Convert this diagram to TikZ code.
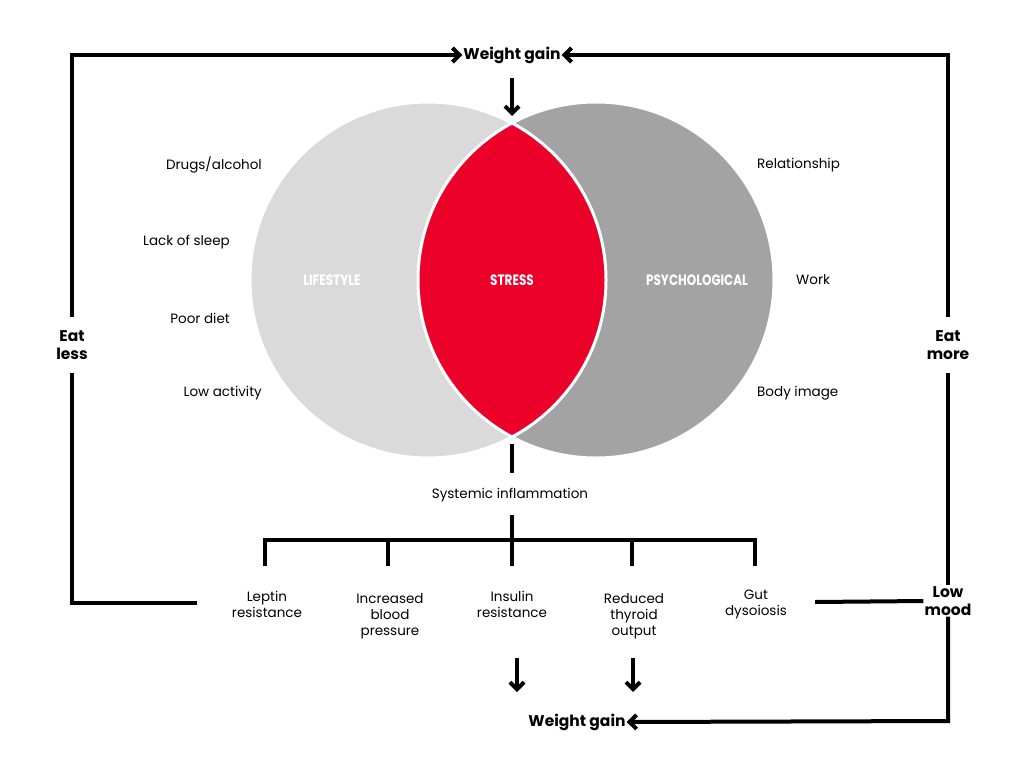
\documentclass[tikz,border=0pt]{standalone}
\usepackage{fontspec}
\setmainfont{Poppins}
\usetikzlibrary{arrows.meta}
\definecolor{lg}{HTML}{DADADA}
\definecolor{dg}{HTML}{A3A3A3}
\definecolor{rd}{HTML}{EB0029}
\begin{document}
\begin{tikzpicture}[x=1pt,y=-1pt,
 line/.style={line width=4pt,black},
 arr/.style={line/.try,-{Triangle[open,length=0pt]}},
 ar/.style={line width=4pt,-{Straight Barb[length=7pt,width=14pt,line width=4pt]}},
 txt/.style={font=\fontsize{13.5}{16}\selectfont,align=center,inner sep=1pt},
 bt/.style={font=\bfseries\fontsize{15.5}{18}\selectfont,align=center,inner sep=1pt},
 ct/.style={font=\bfseries\fontsize{15}{18}\selectfont,text=white,inner sep=0pt}]
\useasboundingbox (0,0) rectangle (1024,768);
\fill[white] (0,0) rectangle (1024,768);
% circles
\fill[lg] (428,280) circle (178);
\fill[dg] (596,280) circle (178);
\begin{scope}\clip (428,280) circle (178);
\fill[rd] (596,280) circle (178);\end{scope}
\draw[white,line width=3pt] (428,280) circle (178);
\draw[white,line width=3pt] (596,280) circle (178);
\node[ct,xscale=0.8] (ls) at (332,280) {LIFESTYLE};
\node[ct,xscale=0.8] (st) at (512,280) {STRESS};
\node[ct,xscale=0.8] (ps) at (697,280) {PSYCHOLOGICAL};
% side labels
\node[txt,anchor=east] (d1) at (263,165) {Drugs/alcohol};
\node[txt,anchor=east] (d2) at (231,242) {Lack of sleep};
\node[txt,anchor=east] (d3) at (231,318) {Poor diet};
\node[txt,anchor=east] (d4) at (263,393) {Low activity};
\node[txt,anchor=west] (p1) at (756,165) {Relationship};
\node[txt,anchor=west] (p2) at (795,280) {Work};
\node[txt,anchor=west] (p3) at (756,393) {Body image};
% top
\node[bt] (wt) at (512,55) {Weight gain};
\node[bt] (el) at (72,345) {Eat\\less};
\node[bt] (em) at (948,345) {Eat\\more};
\node[bt] (lm) at (948,601) {Low\\mood};
\node[bt] (wb) at (577,722) {Weight gain};
\coordinate (lc) at (72,55);
\coordinate (rc) at (948,55);
\draw[ar] (72,317) -- (lc) -- (wt.west);
\draw[ar] (948,317) -- (rc) -- (wt.east);
\draw[ar] (512,78) -- (512,116);
% inflammation
\node[txt] (si) at (510,495) {Systemic inflammation};
\draw[line] (512,444) -- (512,473);
\draw[line] (512,515) -- (512,540);
\draw[line] (265,540) -- (755,540);
\foreach \x in {265,388,512,632,755} \draw[line] (\x,538) -- (\x,566);
\node[txt] (o1) at (267,604) {Leptin\\resistance};
\node[txt] (o2) at (390,616) {Increased\\blood\\pressure};
\node[txt] (o3) at (512,604) {Insulin\\resistance};
\node[txt] (o4) at (634,616) {Reduced\\thyroid\\output};
\node[txt] (o5) at (756,604) {Gut\\dysoiosis};
\coordinate (lb) at (72,603);
\draw[line] (72,373) -- (lb) -- (197,603);
\draw[line] (948,373) -- (lm.north);
\draw[line] (815,602) -- (lm.west);
\coordinate (rb) at (948,721);
\draw[ar] (lm.south) -- (rb) -- (wb.east);
\draw[ar] (517,658) -- (517,692);
\draw[ar] (633,658) -- (633,692);
\end{tikzpicture}
\end{document}
